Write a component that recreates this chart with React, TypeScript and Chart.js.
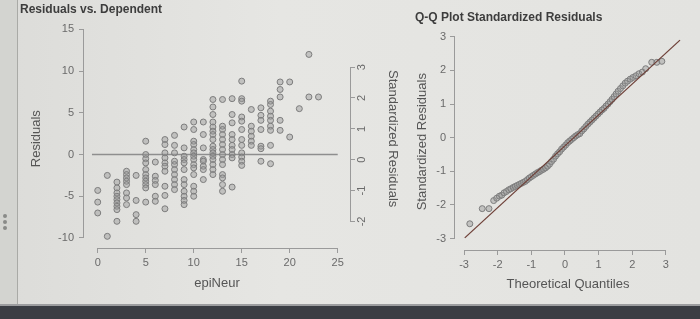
import React, { useEffect, useRef } from "react";
import { Chart, registerables } from "chart.js";

Chart.register(...registerables);

// ---------- Data: Residuals vs. Dependent ----------
const epiNeurValues = [0, 1, 2, 3, 4, 5, 6, 7, 8, 9, 10, 11, 12, 13, 14, 15, 16, 17, 18, 19, 20, 21, 22, 23];
const residualsByEpiNeur = [
  [-4.3, -5.7, -7.0],
  [-2.5, -9.8],
  [-3.3, -4.0, -4.6, -5.0, -5.4, -5.8, -6.2, -6.6, -8.0],
  [-2.0, -2.4, -2.8, -3.2, -3.6, -4.6, -5.2, -6.0],
  [-2.5, -5.5, -7.2, -8.0],
  [1.6, 0.0, -0.5, -1.0, -1.8, -2.4, -2.8, -3.2, -3.6, -4.0, -5.7],
  [-0.9, -2.6, -3.1, -3.6, -5.0, -5.6],
  [1.8, 1.2, 0.2, -0.4, -1.0, -1.4, -2.0, -3.8, -4.9, -6.5],
  [2.3, 1.1, 0.2, -0.8, -1.2, -1.8, -2.4, -3.0, -3.6, -4.2],
  [3.3, 0.8, -0.2, -0.6, -1.0, -1.8, -3.0, -3.6, -4.4, -5.0, -5.5, -6.0],
  [3.9, 3.0, 1.6, 1.2, 0.6, 0.2, -0.2, -0.6, -1.2, -1.6, -2.4, -3.8, -4.4, -5.0],
  [3.9, 2.4, 0.8, -0.6, -0.8, -1.4, -1.8, -3.0],
  [6.6, 5.7, 4.8, 3.9, 3.3, 2.8, 2.4, 1.8, 1.0, 0.6, 0.2, -0.2, -0.6, -1.2, -1.8, -2.4],
  [6.6, 3.4, 3.0, 2.4, 1.8, 1.2, 0.6, 0.0, -0.6, -1.2, -2.4, -2.8, -3.6, -4.4],
  [6.7, 4.8, 3.8, 2.4, 1.8, 1.1, 0.6, 0.0, -0.4, -3.9],
  [8.8, 6.7, 6.4, 4.5, 4.0, 3.0, 1.8, 1.1, 0.2, -0.3, -0.8, -1.3],
  [5.4, 3.4, 2.8, 2.2, 1.6, 1.1],
  [5.6, 4.7, 4.1, 3.0, 1.0, 0.7, -0.8],
  [6.4, 6.0, 5.2, 4.6, 4.1, 3.4, 2.9, 1.1, -1.1],
  [8.7, 7.8, 6.9, 4.1, 2.9],
  [8.7, 2.1],
  [5.5],
  [12.0, 6.9],
  [6.9],
];
const zeroLineX = [-0.6, 25];
const zeroLineY = [0, 0];
const residXTicks = [0, 5, 10, 15, 20, 25];
const residYTicks = [-10, -5, 0, 5, 10, 15];
const stdResidTicks = [-2, -1, 0, 1, 2, 3];

// ---------- Data: Q-Q plot ----------
const qqTheoretical = [
  -2.83, -2.46, -2.26, -2.12, -2.03, -1.95, -1.88, -1.81, -1.74, -1.67, -1.61, -1.54, -1.48, -1.42, -1.36, -1.30,
  -1.24, -1.18, -1.12, -1.06, -1.00, -0.94, -0.88, -0.82, -0.76, -0.70, -0.64, -0.58, -0.52, -0.46, -0.40, -0.34,
  -0.28, -0.22, -0.16, -0.10, -0.04, 0.02, 0.08, 0.14, 0.20, 0.26, 0.32, 0.38, 0.44, 0.50, 0.56, 0.62, 0.68, 0.74,
  0.80, 0.86, 0.92, 0.98, 1.04, 1.10, 1.16, 1.22, 1.28, 1.34, 1.40, 1.46, 1.52, 1.58, 1.65, 1.72, 1.79, 1.86, 1.94,
  2.02, 2.11, 2.20, 2.30, 2.40, 2.58, 2.73, 2.88,
];
const qqStandardized = [
  -2.56, -2.11, -2.11, -1.87, -1.80, -1.74, -1.71, -1.64, -1.60, -1.55, -1.52, -1.48, -1.45, -1.42, -1.39, -1.36,
  -1.33, -1.30, -1.25, -1.20, -1.16, -1.12, -1.08, -1.04, -1.01, -0.97, -0.94, -0.90, -0.85, -0.79, -0.71, -0.64,
  -0.55, -0.48, -0.42, -0.34, -0.28, -0.22, -0.15, -0.10, -0.05, 0.00, 0.05, 0.09, 0.12, 0.20, 0.26, 0.33, 0.40, 0.46,
  0.52, 0.58, 0.64, 0.70, 0.76, 0.82, 0.87, 0.94, 1.00, 1.07, 1.14, 1.22, 1.30, 1.38, 1.46, 1.54, 1.62, 1.68, 1.74,
  1.79, 1.84, 1.90, 1.95, 2.05, 2.24, 2.24, 2.27,
];
const qqLineX = [-2.98, 3.42];
const qqLineY = [-2.98, 2.9];
const qqTicks = [-3, -2, -1, 0, 1, 2, 3];

// ---------- Styles ----------
const FONT = "'Liberation Sans', Arial, sans-serif";
const tickFont = { family: FONT, size: 11 };
const titleFont = { family: FONT, size: 13 };
const TICK_COLOR = "#6a6a6a";
const AXIS_COLOR = "#9a9a9a";
const TITLE_COLOR = "#555555";
const POINT_FILL = "rgba(150,150,150,0.45)";
const POINT_BORDER = "#7c7c7c";

const axisLinePlugin = {
  id: "axisLines",
  afterDraw(chart: any) {
    const ctx = chart.ctx;
    ctx.save();
    ctx.strokeStyle = AXIS_COLOR;
    ctx.lineWidth = 1;
    Object.values(chart.scales).forEach((s: any) => {
      const ticks = s.ticks;
      if (!ticks || !ticks.length) return;
      const a = s.getPixelForValue(ticks[0].value);
      const b = s.getPixelForValue(ticks[ticks.length - 1].value);
      ctx.beginPath();
      if (s.isHorizontal()) {
        const y = s.top + 0.5;
        ctx.moveTo(a, y);
        ctx.lineTo(b, y);
      } else {
        const x = s.position === "left" ? s.right - 0.5 : s.left + 0.5;
        ctx.moveTo(x, a);
        ctx.lineTo(x, b);
      }
      ctx.stroke();
    });
    ctx.restore();
  },
};

const setTicks = (values: number[]) => (scale: any) => {
  scale.ticks = values.map((v) => ({ value: v }));
};

const gridOpts = {
  display: true,
  drawOnChartArea: false,
  drawTicks: true,
  tickLength: 5,
  color: AXIS_COLOR,
};

function ResidualsChart() {
  const ref = useRef<HTMLCanvasElement>(null);
  useEffect(() => {
    if (!ref.current) return;
    const points = epiNeurValues.flatMap((x, i) => residualsByEpiNeur[i].map((y) => ({ x, y })));
    const zero = zeroLineX.map((x, i) => ({ x, y: zeroLineY[i] }));
    const chart = new Chart(ref.current, {
      type: "scatter",
      data: {
        datasets: [
          {
            data: points,
            pointRadius: 3,
            pointBackgroundColor: POINT_FILL,
            pointBorderColor: POINT_BORDER,
            pointBorderWidth: 1,
            order: 1,
          },
          {
            data: zero,
            showLine: true,
            borderColor: "#8e8e8e",
            borderWidth: 1.5,
            pointRadius: 0,
            order: 2,
          },
        ],
      },
      options: {
        responsive: false,
        animation: false,
        devicePixelRatio: 1,
        layout: { padding: { left: 20, right: 5, top: 0, bottom: 10 } },
        plugins: {
          legend: { display: false },
          tooltip: { enabled: false },
          title: {
            display: true,
            text: "Residuals vs. Dependent",
            align: "start",
            color: "#3d3d3d",
            font: { family: FONT, size: 12, weight: "bold" },
            padding: { top: 2, bottom: 13 },
          },
        },
        scales: {
          x: {
            type: "linear",
            min: -1.43,
            max: 26.28,
            afterBuildTicks: setTicks(residXTicks),
            afterFit: (s: any) => { s.height = 47; },
            grid: gridOpts,
            border: { display: false },
            ticks: { font: tickFont, color: TICK_COLOR, padding: 3 },
            title: { display: true, text: "epiNeur", font: titleFont, color: TITLE_COLOR, padding: { top: 0, bottom: 4 } },
          },
          y: {
            type: "linear",
            position: "left",
            min: -11.2,
            max: 15,
            afterBuildTicks: setTicks(residYTicks),
            afterFit: (s: any) => { s.width = 64; },
            grid: gridOpts,
            border: { display: false },
            ticks: { font: tickFont, color: TICK_COLOR, padding: 5 },
            title: { display: true, text: "Residuals", font: titleFont, color: TITLE_COLOR, padding: { top: 9, bottom: 0 } },
          },
          y2: {
            type: "linear",
            position: "right",
            min: -2.86,
            max: 4.22,
            afterBuildTicks: setTicks(stdResidTicks),
            afterFit: (s: any) => { s.width = 50; },
            grid: gridOpts,
            border: { display: false },
            ticks: { font: tickFont, color: TICK_COLOR, padding: 2, minRotation: 90, maxRotation: 90, crossAlign: "center" },
            title: { display: true, text: "Standardized Residuals", font: titleFont, color: TITLE_COLOR, padding: { top: 0, bottom: 0 } },
          },
        },
      },
      plugins: [axisLinePlugin],
    } as any);
    return () => chart.destroy();
  }, []);
  return <canvas ref={ref} width={405} height={305} style={{ position: "absolute", left: 0, top: 0, width: 405, height: 305 }} />;
}

function QQChart() {
  const ref = useRef<HTMLCanvasElement>(null);
  useEffect(() => {
    if (!ref.current) return;
    const points = qqTheoretical.map((x, i) => ({ x, y: qqStandardized[i] }));
    const line = qqLineX.map((x, i) => ({ x, y: qqLineY[i] }));
    const chart = new Chart(ref.current, {
      type: "scatter",
      data: {
        datasets: [
          {
            data: points,
            pointRadius: 3,
            pointBackgroundColor: POINT_FILL,
            pointBorderColor: POINT_BORDER,
            pointBorderWidth: 1,
            order: 2,
          },
          {
            data: line,
            showLine: true,
            borderColor: "#6e4038",
            borderWidth: 1.3,
            pointRadius: 0,
            order: 1,
          },
        ],
      },
      options: {
        responsive: false,
        animation: false,
        devicePixelRatio: 1,
        layout: { padding: { left: 15, right: 19, top: 0, bottom: 10 } },
        plugins: {
          legend: { display: false },
          tooltip: { enabled: false },
          title: {
            display: true,
            text: "Q-Q Plot Standardized Residuals",
            align: "start",
            color: "#3d3d3d",
            font: { family: FONT, size: 12, weight: "bold" },
            padding: { top: 10, bottom: 9 },
          },
        },
        scales: {
          x: {
            type: "linear",
            min: -3.27,
            max: 3.45,
            afterBuildTicks: setTicks(qqTicks),
            afterFit: (s: any) => { s.height = 45; },
            grid: gridOpts,
            border: { display: false },
            ticks: { font: tickFont, color: TICK_COLOR, padding: 3 },
            title: { display: true, text: "Theoretical Quantiles", font: titleFont, color: TITLE_COLOR, padding: { top: 0, bottom: 3 } },
          },
          y: {
            type: "linear",
            min: -3.34,
            max: 3.1,
            afterBuildTicks: setTicks(qqTicks),
            afterFit: (s: any) => { s.width = 40; },
            grid: gridOpts,
            border: { display: false },
            ticks: { font: tickFont, color: TICK_COLOR, padding: 4 },
            title: { display: true, text: "Standardized Residuals", font: titleFont, color: TITLE_COLOR, padding: { top: 0, bottom: 0 } },
          },
        },
      },
      plugins: [axisLinePlugin],
    } as any);
    return () => chart.destroy();
  }, []);
  return <canvas ref={ref} width={300} height={305} style={{ position: "absolute", left: 400, top: 0, width: 300, height: 305 }} />;
}

export default function App() {
  const dot = (top: number) => (
    <div style={{ position: "absolute", left: 3, top, width: 4, height: 4, borderRadius: 2, background: "#8a8b88" }} />
  );
  return (
    <div
      style={{
        position: "fixed",
        left: 0,
        top: 0,
        width: 700,
        height: 319,
        overflow: "hidden",
        background: "linear-gradient(90deg, #dcdcd9 0%, #e6e6e3 40%, #e3e3e0 100%)",
      }}
    >
      <div style={{ position: "absolute", left: 0, top: 0, width: 17, height: 306, background: "#d3d4d0", borderRight: "1px solid #a9aaa6" }} />
      {dot(214)}
      {dot(220)}
      {dot(226)}
      <ResidualsChart />
      <QQChart />
      <div style={{ position: "absolute", left: 0, top: 304, width: 700, height: 2, background: "#9c9d9f" }} />
      <div style={{ position: "absolute", left: 0, top: 306, width: 700, height: 13, background: "#3b3e44" }} />
    </div>
  );
}
